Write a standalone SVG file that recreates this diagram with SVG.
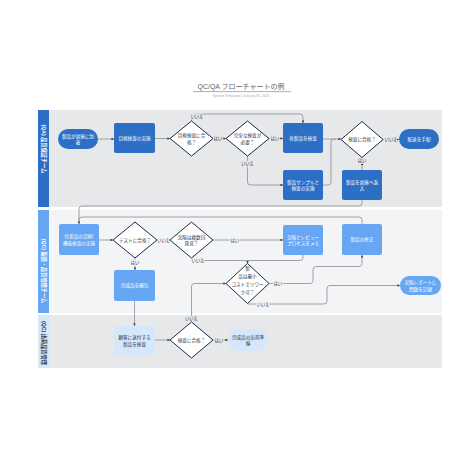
<svg xmlns="http://www.w3.org/2000/svg" width="474" height="474" viewBox="0 0 474 474">
<defs>
<marker id="ah" viewBox="0 0 6 6" refX="6" refY="3" markerWidth="3.2" markerHeight="3.2" orient="auto">
<path d="M0,0 L6,3 L0,6 z" fill="#333"/>
</marker>
<style>
text{font-family:"Liberation Sans","Noto Sans CJK JP",sans-serif;}
.nt{font-size:4.6px;text-anchor:middle;}
.w{fill:#ffffff;}
.d{fill:#2b3447;}
.dark{fill:#2e6fc6;}
.mid{fill:#66a6f3;}
.light{fill:#d5e7fb;}
.dia{fill:#ffffff;stroke:#1e2a44;stroke-width:1;}
.c{fill:none;stroke:#8a8d93;stroke-width:0.8;}
.ca{fill:none;stroke:#8a8d93;stroke-width:0.8;marker-end:url(#ah);}
.lb{font-size:4.2px;text-anchor:middle;fill:#333;paint-order:stroke;stroke-width:2.2px;stroke-linejoin:round;}
.l1{stroke:#e7e8ea;}
.l2{stroke:#f3f4f6;}
.ln{font-size:5.2px;font-weight:bold;text-anchor:middle;}
</style>
</defs>
<rect width="474" height="474" fill="#ffffff"/>
<g id="title">
<text x="241" y="89" font-size="7" text-anchor="middle" fill="#666">QC/QA フローチャートの例</text>
<line x1="193" y1="91.6" x2="291" y2="91.6" stroke="#777" stroke-width="0.6"/>
<text x="241" y="97.2" font-size="3.4" text-anchor="middle" fill="#aaa">System Templates  |  January 30, 2025</text>
</g>
<g id="lanes">
<rect x="49" y="110" width="393" height="97" fill="#e7e8ea"/>
<rect x="38" y="110" width="11" height="97" fill="#2e6fc6"/>
<rect x="49" y="210" width="393" height="103" fill="#f3f4f6"/>
<rect x="38" y="210" width="11" height="103" fill="#66a6f3"/>
<rect x="49" y="315" width="393" height="53" fill="#e7e8ea"/>
<rect x="38" y="315" width="11" height="53" fill="#d5e7fb"/>
<text class="ln w" transform="translate(43.5,149) rotate(90)" dy="1.8">(QA) 品質保証チーム</text>
<text class="ln w" transform="translate(43.5,271) rotate(90)" dy="1.8">(QC) 製造・品質管理チーム</text>
<text class="ln d" transform="translate(43.5,343) rotate(90)" dy="1.8">(QC) 出荷品質管理</text>
</g>
<g id="connectors">
<path class="ca" d="M98,139 H114"/>
<path class="ca" d="M155,138.5 H170"/>
<path class="ca" d="M213,138.5 H226"/>
<path class="ca" d="M191.5,121 V117 Q191.5,114 194.5,114 H300 Q303,114 303,117 V123"/>
<path class="ca" d="M269,138.5 H283"/>
<path class="ca" d="M247.5,156 V182 Q247.5,185 250.5,185 H283"/>
<path class="ca" d="M323,139 H341"/>
<path class="c" d="M323,185 H328 Q331,185 331,182 V142 Q331,139 334,139 H336"/>
<path class="ca" d="M383,139.5 H399"/>
<path class="ca" d="M362,170 V162.5"/>
<path class="c" d="M362,162.5 V157.5"/>
<path class="ca" d="M362,200 V203 Q362,206 359,206 H82 Q79,206 79,209 V224"/>
<path class="c" d="M362,224 V220 Q362,217 359,217 H82 Q79,217 79,220 V222"/>
<path class="ca" d="M99,240 H113"/>
<path class="ca" d="M157,240 H170"/>
<path class="ca" d="M213,240 H283"/>
<path class="ca" d="M191.5,258 V260.5 H247.5 V263.5"/>
<path class="c" d="M303,255 V257.5 Q303,260.5 300,260.5 H248"/>
<path class="ca" d="M135,258 V270"/>
<path class="ca" d="M134.5,301 V326"/>
<path class="ca" d="M269,283.5 H310 Q313,283.5 313,280.5 V269.5 Q313,266.5 316,266.5 H359 Q362,266.5 362,263.5 V255"/>
<path class="ca" d="M247.5,304 H324 Q327,304 327,301 V288.5 Q327,285.5 330,285.5 H400"/>
<path class="ca" d="M155,340 H170"/>
<path class="ca" d="M213,340 H228"/>
<path class="ca" d="M191.5,322 V286.5 Q191.5,283.5 194.5,283.5 H226"/>
<text class="lb l1" x="218" y="140">はい</text>
<text class="lb l1" x="197" y="117.5">いいえ</text>
<text class="lb l1" x="275" y="140">はい</text>
<text class="lb l1" x="247.5" y="164.5">いいえ</text>
<text class="lb l1" x="391" y="141">いいえ</text>
<text class="lb l1" x="362" y="161.5">はい</text>
<text class="lb l2" x="163.5" y="241.5">いいえ</text>
<text class="lb l2" x="235" y="241.5">はい</text>
<text class="lb l2" x="198" y="262">いいえ</text>
<text class="lb l2" x="135" y="263.5">はい</text>
<text class="lb l2" x="278" y="285">はい</text>
<text class="lb l2" x="263" y="305.5">いいえ</text>
<text class="lb l1" x="219" y="341.5">はい</text>
<text class="lb l1" x="191.5" y="319.5">いいえ</text>
</g>
<g id="n1"><rect class="dark" x="58" y="129" width="40" height="20" rx="10"/><text class="nt w" x="78" y="137.8">製品が倉庫に到</text><text class="nt w" x="78" y="144.3">着</text></g>
<g id="n2"><rect class="dark" x="114" y="123" width="41" height="30" rx="2"/><text class="nt w" x="134.5" y="139.6">目視検査の実施</text></g>
<g id="n3"><path class="dia" d="M191.5,121 L213,138.5 L191.5,156 L170,138.5 Z"/><text class="nt d" x="191.5" y="137.3">目視検査に合</text><text class="nt d" x="191.5" y="143.8">格？</text></g>
<g id="n4"><path class="dia" d="M247.5,121 L269,138.5 L247.5,156 L226,138.5 Z"/><text class="nt d" x="247.5" y="137.3">完全な検査が</text><text class="nt d" x="247.5" y="143.8">必要？</text></g>
<g id="n5"><rect class="dark" x="283" y="123" width="40" height="30" rx="2"/><text class="nt w" x="303" y="139.6">各製品を検査</text></g>
<g id="n6"><rect class="dark" x="283" y="170" width="40" height="30" rx="2"/><text class="nt w" x="303" y="183.8">製品サンプルと</text><text class="nt w" x="303" y="190.3">検査の実施</text></g>
<g id="n7"><path class="dia" d="M362,121.5 L383,139.5 L362,157.5 L341,139.5 Z"/><text class="nt d" x="362" y="141.2">検査に合格？</text></g>
<g id="n8"><rect class="dark" x="399" y="129" width="40" height="20" rx="10"/><text class="nt w" x="419" y="140.6">配送を手配</text></g>
<g id="n9"><rect class="dark" x="342" y="170" width="40" height="30" rx="2"/><text class="nt w" x="362" y="183.8">製品を倉庫へ返</text><text class="nt w" x="362" y="190.3">入</text></g>
<g id="n10"><rect class="mid" x="59" y="224" width="40" height="31" rx="2"/><text class="nt w" x="79" y="238.3">仕掛品の目視/</text><text class="nt w" x="79" y="244.8">機能検査の実施</text></g>
<g id="n11"><path class="dia" d="M135,222 L157,240 L135,258 L113,240 Z"/><text class="nt d" x="135" y="241.7">テストに合格？</text></g>
<g id="n12"><path class="dia" d="M191.5,222 L213,240 L191.5,258 L170,240 Z"/><text class="nt d" x="191.5" y="238.8">欠陥は複数回</text><text class="nt d" x="191.5" y="245.3">発見？</text></g>
<g id="n13"><rect class="mid" x="283" y="225" width="40" height="30" rx="2"/><text class="nt w" x="303" y="238.8">欠陥とレビュー</text><text class="nt w" x="303" y="245.3">プロセスをメモ</text></g>
<g id="n14"><rect class="mid" x="342" y="224" width="40" height="31" rx="2"/><text class="nt w" x="362" y="241.2">製品の修正</text></g>
<g id="n15"><rect class="mid" x="114" y="270" width="41" height="31" rx="2"/><text class="nt w" x="134.5" y="287.2">完成品を梱包</text></g>
<g id="n16"><path class="dia" d="M247.5,263.5 L269,283.5 L247.5,303.5 L226,283.5 Z"/><text class="nt d" x="247.5" y="269.5">製</text><text class="nt d" x="247.5" y="277.5">品は最小</text><text class="nt d" x="247.5" y="285.5">コストでリワー</text><text class="nt d" x="247.5" y="293.5">ク可？</text></g>
<g id="n17"><rect class="mid" x="400" y="276" width="41" height="19" rx="9.5"/><text class="nt w" x="420.5" y="284">欠陥レポートに</text><text class="nt w" x="420.5" y="290.5">問題を記録</text></g>
<g id="n18"><rect class="light" x="114" y="326" width="41" height="29" rx="2"/><text class="nt d" x="134.5" y="339">顧客に送付する</text><text class="nt d" x="134.5" y="345.5">製品を検査</text></g>
<g id="n19"><path class="dia" d="M191.5,322 L213,340 L191.5,358 L170,340 Z"/><text class="nt d" x="191.5" y="341.7">検査に合格？</text></g>
<g id="n20"><rect class="light" x="228" y="329" width="40" height="22" rx="11"/><text class="nt d" x="248" y="338.5">完成品の出荷準</text><text class="nt d" x="248" y="345">備</text></g>
</svg>
